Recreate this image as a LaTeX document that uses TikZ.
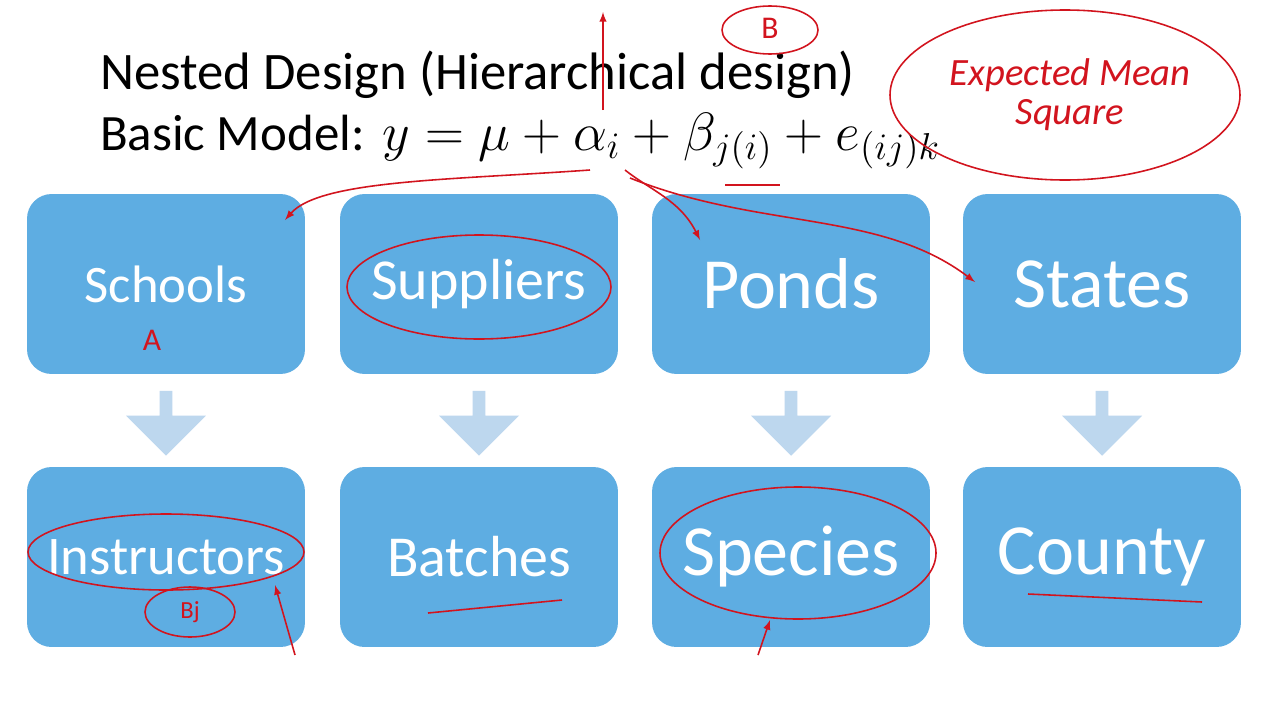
\documentclass[tikz,border=0pt]{standalone}
\usepackage{fontspec}
\setmainfont{Carlito}
\usetikzlibrary{shapes.arrows,positioning}
\definecolor{boxblue}{RGB}{94,173,226}
\definecolor{arrowblue}{RGB}{189,215,238}
\definecolor{inkred}{RGB}{210,20,30}
\tikzset{
  level/.style={fill=boxblue, rounded corners=14pt, minimum width=5.56cm, minimum height=3.6cm, text=white, inner sep=0pt},
  down/.style={single arrow, shape border rotate=270, fill=arrowblue, minimum height=1.3cm, minimum width=1.6cm, single arrow head extend=0.4cm, inner sep=2pt},
  ink/.style={draw=inkred, line width=0.9pt}
}
\begin{document}
\begin{tikzpicture}[x=0.02cm, y=-0.02cm]
  \useasboundingbox (0,0) rectangle (1280,720);
  \fill[white] (0,0) rectangle (1280,720);
  % title
  \node[anchor=west, font=\fontsize{30}{32}\selectfont] (title) at (94,75) {Nested Design (Hierarchical design)};
  \node[anchor=base west, font=\fontsize{29}{32}\selectfont] (model) at (94,150) {Basic Model:};
  \node[anchor=base west, inner sep=0pt] (eq) at (382,150) {\scalebox{1.48}{\huge$y=\mu+\alpha_i+\beta_{j(i)}+e_{(ij)k}$}};
  % upper row
  \node[level, font=\fontsize{30}{32}\selectfont] (schools) at (166,284) {Schools};
  \node[level, font=\fontsize{33}{34}\selectfont] (suppliers) at (479,284) {Suppliers};
  \node[level, font=\fontsize{41}{42}\selectfont] (ponds) at (791,284) {Ponds};
  \node[level, font=\fontsize{41}{42}\selectfont] (states) at (1102,284) {States};
  % lower row
  \node[level, font=\fontsize{31}{32}\selectfont] (instructors) at (166,557) {Instructors};
  \node[level, font=\fontsize{33}{34}\selectfont] (batches) at (479,557) {Batches};
  \node[level, font=\fontsize{41}{42}\selectfont] (species) at (791,557) {Species};
  \node[level, font=\fontsize{41}{42}\selectfont] (county) at (1102,557) {County};
  % nesting arrows
  \foreach \x in {166,479,791,1102}
    \node[down] at (\x,420) {};
  % handwritten notes
  \draw[ink] (1065,95) ellipse (175 and 85);
  \node[inkred, font=\itshape\fontsize{22}{24}\selectfont, align=center] (ems) at (1070,95) {Expected Mean\\[-2pt] Square};
  \draw[ink] (479,287) ellipse (132 and 52);
  \draw[ink] (166,552) ellipse (138 and 38);
  \draw[ink] (798,553) ellipse (138 and 66);
  \draw[ink] (770,30) ellipse (48 and 24);
  \node[inkred, font=\fontsize{18}{20}\selectfont] (beta) at (770,28) {B};
  \node[inkred, font=\fontsize{18}{20}\selectfont] (alpha) at (152,340) {A};
  \draw[ink] (190,612) ellipse (45 and 25);
  \node[inkred, font=\fontsize{14}{16}\selectfont] (bj) at (190,612) {Bj};
  \draw[ink] (428,613) -- (562,600);
  \draw[ink] (1028,594) -- (1202,602);
  \draw[ink] (725,185) -- (780,185);
  \draw[ink, -latex] (603,110) -- (603,12);
  \draw[ink, -latex] (590,170) .. controls (450,180) and (320,180) .. (285,220);
  \draw[ink, -latex] (625,170) .. controls (650,190) and (680,200) .. (700,240);
  \draw[ink, -latex] (630,178) .. controls (760,230) and (880,210) .. (975,282);
  \draw[ink, -latex] (758,655) -- (770,620);
  \draw[ink, -latex] (295,655) -- (275,585);
\end{tikzpicture}
\end{document}
